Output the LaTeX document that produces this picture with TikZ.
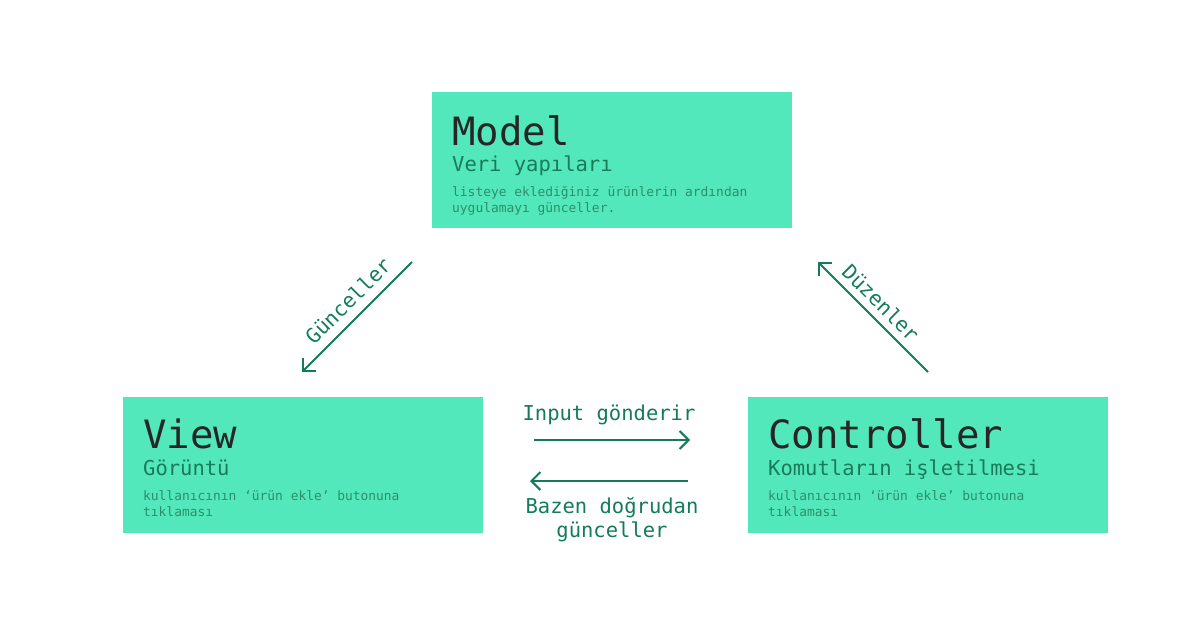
\documentclass[tikz,border=0pt]{standalone}
\usepackage{fontspec}
\setmainfont{DejaVu Sans Mono}
\usetikzlibrary{arrows.meta}
\definecolor{boxg}{HTML}{52E8BB}
\definecolor{arr}{HTML}{137B58}
\definecolor{sub}{HTML}{1B7A5A}
\definecolor{sml}{HTML}{2E8E6A}
\tikzset{
 box/.style={fill=boxg,draw=none},
 ttl/.style={anchor=base west,inner sep=0,font=\fontsize{39}{39}\selectfont,text=black!85},
 st/.style={anchor=base west,inner sep=0,font=\fontsize{20.5}{20.5}\selectfont,text=sub},
 sm/.style={anchor=base west,inner sep=0,font=\fontsize{12.9}{16}\selectfont,text=sml,align=left},
 ar/.style={draw=arr,line width=2pt,-{Straight Barb[length=9pt,width=18pt,line width=2pt]}},
 lbl/.style={inner sep=0,font=\fontsize{20.5}{24}\selectfont,text=arr,align=center}
}
\begin{document}
\begin{tikzpicture}[x=1pt,y=-1pt]
\useasboundingbox (0,0) rectangle (1200,635);
\fill[box] (432,92) rectangle (792,228);
\fill[box] (123,397) rectangle (483,533);
\fill[box] (748,397) rectangle (1108,533);
\node[ttl] (mt) at (452,145) {Model};
\node[st] (ms) at (452,171) {Veri yapıları};
\node[sm] (m1) at (452,196) {listeye eklediğiniz ürünlerin ardından};
\node[sm] (m2) at (452,212) {uygulamayı günceller.};
\node[ttl] (vt) at (143,448) {View};
\node[st] (vs) at (143,475) {Görüntü};
\node[sm] (v1) at (143,500) {kullanıcının ‘ürün ekle’ butonuna};
\node[sm] (v2) at (143,516) {tıklaması};
\node[ttl] (ct) at (768,448) {Controller};
\node[st] (cs) at (768,475) {Komutların işletilmesi};
\node[sm] (c1) at (768,500) {kullanıcının ‘ürün ekle’ butonuna};
\node[sm] (c2) at (768,516) {tıklaması};
\coordinate (g1) at (412,262); \coordinate (g2) at (302,372);
\draw[ar] (g1) -- (g2);
\node[lbl,rotate=45] (gl) at (348,301) {Günceller};
\coordinate (d1) at (928,372); \coordinate (d2) at (818,262);
\draw[ar] (d1) -- (d2);
\node[lbl,rotate=-45] (dl) at (881,303) {Düzenler};
\coordinate (i1) at (534,440); \coordinate (i2) at (690,440);
\draw[ar] (i1) -- (i2);
\node[lbl] (il) at (609,415) {Input gönderir};
\coordinate (b1) at (688,481); \coordinate (b2) at (530,481);
\draw[ar] (b1) -- (b2);
\node[lbl] (bl) at (612,520) {Bazen doğrudan\\günceller};
\end{tikzpicture}
\end{document}
